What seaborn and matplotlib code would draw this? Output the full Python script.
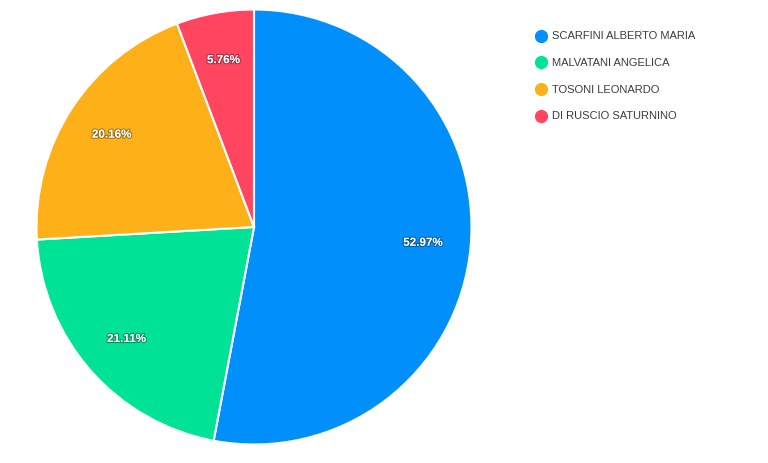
import matplotlib
matplotlib.use("Agg")
import matplotlib.pyplot as plt
import matplotlib.patheffects as pe
from matplotlib.lines import Line2D
import seaborn as sns

candidates = ["SCARFINI ALBERTO MARIA", "MALVATANI ANGELICA", "TOSONI LEONARDO", "DI RUSCIO SATURNINO"]
shares = [52.97, 21.11, 20.16, 5.76]
colors = ["#008FFB", "#00E396", "#FEB019", "#FF4560"]

sns.set_theme(style="white")
plt.rcParams['font.family'] = ['Liberation Sans', 'DejaVu Sans']
palette = sns.color_palette(colors)

W, H = 768, 463
fig = plt.figure(figsize=(W / 100, H / 100), dpi=100)
cx, cy, r = 254, 227, 217.5
ax = fig.add_axes([(cx - r) / W, (H - cy - r) / H, 2 * r / W, 2 * r / H])

wedges, texts, autotexts = ax.pie(
    shares, colors=palette, startangle=90, counterclock=False,
    autopct=lambda p: f"{p:.2f}%", pctdistance=0.78,
    wedgeprops=dict(edgecolor="white", linewidth=1.5),
    textprops=dict(color="white", fontsize=8.4, fontweight="bold"),
)
for t in autotexts:
    t.set_path_effects([pe.withStroke(linewidth=1.6, foreground=(0, 0, 0, 0.35))])
ax.set_xlim(-1, 1)
ax.set_ylim(-1, 1)
ax.set_aspect("equal")
ax.axis("off")

handles = [Line2D([0], [0], marker="o", linestyle="", markersize=8.5,
                  markerfacecolor=c, markeredgecolor=c) for c in palette]
fig.legend(handles, candidates, loc="upper left", bbox_to_anchor=(531 / W, 1 - 27 / H),
           frameon=False, fontsize=8.0, labelcolor="#373d3f", handletextpad=0.45,
           labelspacing=1.5, borderaxespad=0, handlelength=1.0)

fig.savefig("out.png", dpi=100, facecolor="white")
